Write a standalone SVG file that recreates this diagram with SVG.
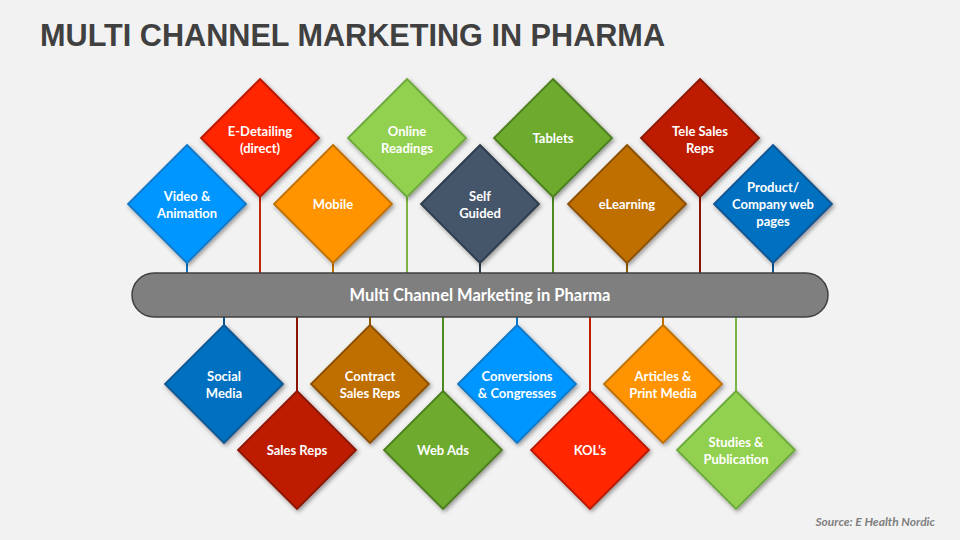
<svg xmlns="http://www.w3.org/2000/svg" width="960" height="540" viewBox="0 0 960 540">
<defs>
<filter id="sh" x="-30%" y="-30%" width="160%" height="160%">
<feDropShadow dx="1.5" dy="2" stdDeviation="2" flood-color="#000" flood-opacity="0.4"/>
</filter>
<polygon id="dm" points="0,-59 59,0 0,59 -59,0"/>
</defs>
<style>
.dia{stroke-width:1.8;filter:url(#sh)}
.lbl{font-family:Lato,"Open Sans","Liberation Sans",sans-serif;font-weight:bold;font-size:13px;fill:#fff;text-anchor:middle}
.c-blue{fill:#0096FF;stroke:#0A78C8}
.c-red{fill:#FF2600;stroke:#B81800}
.c-orange{fill:#FF9400;stroke:#BF7000}
.c-lgreen{fill:#92D050;stroke:#6CA83A}
.c-slate{fill:#44546A;stroke:#2E3A4A}
.c-green{fill:#6EAA2E;stroke:#4B7D1E}
.c-brown{fill:#BF6E00;stroke:#8C5000}
.c-dred{fill:#BE1E00;stroke:#8A1400}
.c-dblue{fill:#0070C0;stroke:#0A5590}
.ln{stroke-width:2;fill:none}
</style>
<rect width="960" height="540" fill="#F2F2F2"/>
<text x="40" y="46" font-family="'Liberation Sans',Arial,sans-serif" font-weight="bold" font-size="32" fill="#404040" textLength="625" lengthAdjust="spacingAndGlyphs">MULTI CHANNEL MARKETING IN PHARMA</text>

<g id="connectors">
<line class="ln" x1="187" y1="263" x2="187" y2="273" stroke="#0A70C0"/>
<line class="ln" x1="260" y1="197" x2="260" y2="273" stroke="#C0280A"/>
<line class="ln" x1="333" y1="263" x2="333" y2="273" stroke="#BF7000"/>
<line class="ln" x1="407" y1="197" x2="407" y2="273" stroke="#7CB342"/>
<line class="ln" x1="480" y1="263" x2="480" y2="273" stroke="#2E3A4A"/>
<line class="ln" x1="553" y1="197" x2="553" y2="273" stroke="#4E8A20"/>
<line class="ln" x1="627" y1="263" x2="627" y2="273" stroke="#8C5800"/>
<line class="ln" x1="700" y1="197" x2="700" y2="273" stroke="#8A1400"/>
<line class="ln" x1="773" y1="263" x2="773" y2="273" stroke="#0A5590"/>
<line class="ln" x1="224" y1="317" x2="224" y2="325" stroke="#0A5590"/>
<line class="ln" x1="297" y1="317" x2="297" y2="391" stroke="#8A1400"/>
<line class="ln" x1="370" y1="317" x2="370" y2="325" stroke="#8C5800"/>
<line class="ln" x1="443" y1="317" x2="443" y2="391" stroke="#4E8A20"/>
<line class="ln" x1="517" y1="317" x2="517" y2="325" stroke="#0A78C8"/>
<line class="ln" x1="590" y1="317" x2="590" y2="391" stroke="#C02000"/>
<line class="ln" x1="663" y1="317" x2="663" y2="325" stroke="#BF7000"/>
<line class="ln" x1="736" y1="317" x2="736" y2="391" stroke="#7CB342"/>
</g>

<g id="bar">
<rect x="132" y="273" width="696" height="44" rx="22" fill="#7F7F7F" stroke="#404040" stroke-width="1.5"/>
<text x="480" y="301" font-family="Lato,'Open Sans','Liberation Sans',sans-serif" font-weight="bold" font-size="16.5" fill="#fff" text-anchor="middle">Multi Channel Marketing in Pharma</text>
</g>

<g id="n-edetailing" transform="translate(260,138)"><use href="#dm" class="dia c-red"/><text class="lbl" y="-2.5">E-Detailing</text><text class="lbl" y="14.5">(direct)</text></g>
<g id="n-online" transform="translate(407,138)"><use href="#dm" class="dia c-lgreen"/><text class="lbl" y="-2.5">Online</text><text class="lbl" y="14.5">Readings</text></g>
<g id="n-tablets" transform="translate(553,138)"><use href="#dm" class="dia c-green"/><text class="lbl" y="4.5">Tablets</text></g>
<g id="n-telesales" transform="translate(700,138)"><use href="#dm" class="dia c-dred"/><text class="lbl" y="-2.5">Tele Sales</text><text class="lbl" y="14.5">Reps</text></g>

<g id="n-video" transform="translate(187,204)"><use href="#dm" class="dia c-blue"/><text class="lbl" y="-3.5">Video &amp;</text><text class="lbl" y="13.5">Animation</text></g>
<g id="n-mobile" transform="translate(333,204)"><use href="#dm" class="dia c-orange"/><text class="lbl" y="4.5">Mobile</text></g>
<g id="n-selfguided" transform="translate(480,204)"><use href="#dm" class="dia c-slate"/><text class="lbl" y="-3.5">Self</text><text class="lbl" y="13.5">Guided</text></g>
<g id="n-elearning" transform="translate(627,204)"><use href="#dm" class="dia c-brown"/><text class="lbl" y="4.5">eLearning</text></g>
<g id="n-product" transform="translate(773,204)"><use href="#dm" class="dia c-dblue"/><text class="lbl" y="-12.5">Product/</text><text class="lbl" y="4.5">Company web</text><text class="lbl" y="21.5">pages</text></g>

<g id="n-social" transform="translate(224,384)"><use href="#dm" class="dia c-dblue"/><text class="lbl" y="-3.5">Social</text><text class="lbl" y="13.5">Media</text></g>
<g id="n-contract" transform="translate(370,384)"><use href="#dm" class="dia c-brown"/><text class="lbl" y="-3.5">Contract</text><text class="lbl" y="13.5">Sales Reps</text></g>
<g id="n-conversions" transform="translate(517,384)"><use href="#dm" class="dia c-blue"/><text class="lbl" y="-3.5">Conversions</text><text class="lbl" y="13.5">&amp; Congresses</text></g>
<g id="n-articles" transform="translate(663,384)"><use href="#dm" class="dia c-orange"/><text class="lbl" y="-3.5">Articles &amp;</text><text class="lbl" y="13.5">Print Media</text></g>

<g id="n-salesreps" transform="translate(297,450)"><use href="#dm" class="dia c-dred"/><text class="lbl" y="4.5">Sales Reps</text></g>
<g id="n-webads" transform="translate(443,450)"><use href="#dm" class="dia c-green"/><text class="lbl" y="4.5">Web Ads</text></g>
<g id="n-kols" transform="translate(590,450)"><use href="#dm" class="dia c-red"/><text class="lbl" y="4.5">KOL’s</text></g>
<g id="n-studies" transform="translate(736,450)"><use href="#dm" class="dia c-lgreen"/><text class="lbl" y="-3.5">Studies &amp;</text><text class="lbl" y="13.5">Publication</text></g>

<text x="935" y="526" font-family="Lato,'Liberation Sans',sans-serif" font-weight="bold" font-style="italic" font-size="12" fill="#7F7F7F" text-anchor="end">Source: E Health Nordic</text>
</svg>
